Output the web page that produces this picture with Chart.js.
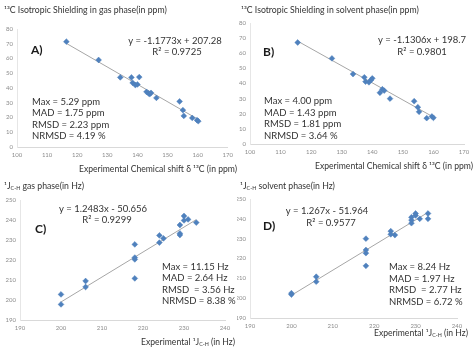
<!DOCTYPE html>
<html>
<head>
<meta charset="utf-8">
<script src="https://cdn.jsdelivr.net/npm/chart.js@4.4.1/dist/chart.umd.min.js"></script>
<style>
  body { margin: 0; background: #fff; }
  .grid { position: relative; width: 474px; height: 352px; background: #fff; }
  .panel { position: absolute; width: 237px; height: 176px; }
</style>
</head>
<body>
<div class="grid">
  <div class="panel" style="left:0;top:0"><canvas id="chartA" width="237" height="176"></canvas></div>
  <div class="panel" style="left:237px;top:0"><canvas id="chartB" width="237" height="176"></canvas></div>
  <div class="panel" style="left:0;top:176px"><canvas id="chartC" width="237" height="176"></canvas></div>
  <div class="panel" style="left:237px;top:176px"><canvas id="chartD" width="237" height="176"></canvas></div>
</div>
<script>
// A) 13C shielding, gas phase vs experimental shift
const expShiftA = [116.4, 127.1, 134.3, 138.0, 140.6, 138.4, 139.3, 140.0, 143.0, 143.7, 144.1, 144.5, 146.3, 154.0, 155.1, 155.4, 158.2, 159.8, 160.2];
const shieldGasA = [71.4, 59.0, 47.2, 47.2, 47.4, 43.5, 42.0, 42.4, 37.4, 36.3, 35.9, 36.7, 33.3, 30.9, 25.0, 21.1, 19.7, 18.2, 17.5];

// B) 13C shielding, solvent phase
const expShiftB = [115.6, 126.8, 133.7, 137.4, 137.8, 138.9, 139.6, 140.0, 142.5, 143.3, 143.9, 145.8, 153.7, 154.9, 155.3, 157.8, 159.5, 160.0];
const shieldSolvB = [67.1, 56.6, 46.2, 44.1, 41.2, 40.8, 42.3, 43.4, 33.9, 36.2, 35.3, 30.0, 28.3, 24.3, 21.3, 17.1, 18.2, 17.3];

// C) 1J C-H, gas phase
const expJC = [200, 200, 206, 206, 218, 218, 218, 218, 224, 224, 225, 229, 229, 229, 230, 230, 231, 233];
const jGasC = [202.8, 197.8, 209.5, 206.5, 227.8, 221.2, 220.3, 210.8, 232.3, 228.7, 230.8, 237.5, 233.3, 232.5, 242.0, 239.8, 240.3, 238.7];

// D) 1J C-H, solvent phase
const expJD = [200, 200, 206, 206, 218, 218, 218, 218, 224, 224, 225, 229, 229, 229, 230, 230, 231, 233, 233];
const jSolvD = [202.5, 201.8, 210.8, 208.3, 230.0, 224.3, 222.7, 216.3, 233.8, 232.2, 231.8, 239.3, 240.8, 237.8, 241.7, 242.7, 240.0, 242.7, 240.0];

// trendline coefficients (as printed on the chart)
const fitA = [-1.1773, 207.28];
const fitB = [-1.1306, 198.7];
const fitC = [1.2483, -50.656];
const fitD = [1.267, -51.964];

const statsA = ['Max = 5.29 ppm', 'MAD = 1.75 ppm', 'RMSD = 2.23 ppm', 'NRMSD = 4.19 %'];
const statsB = ['Max = 4.00 ppm', 'MAD = 1.43 ppm', 'RMSD = 1.81 ppm', 'NRMSD = 3.64 %'];
const statsC = ['Max = 11.15 Hz', 'MAD = 2.64 Hz', 'RMSD  = 3.56 Hz', 'NRMSD = 8.38 %'];
const statsD = ['Max = 8.24 Hz', 'MAD = 1.97 Hz', 'RMSD  = 2.77 Hz', 'NRMSD = 6.72 %'];

const FONT = 'Lato, "Open Sans", sans-serif';

// draw text made of normal / subscript pieces
function drawRich(ctx, parts, x, y, size) {
    ctx.save();
    ctx.textAlign = 'left';
    ctx.textBaseline = 'middle';
    let cx = x;
    parts.forEach(p => {
        const sub = p[1] === 'sub';
        ctx.font = (sub ? size * 0.62 : size) + 'px ' + FONT;
        ctx.fillText(p[0], cx, sub ? y + 2.5 : y);
        cx += ctx.measureText(p[0]).width;
    });
    ctx.restore();
}

const labelsPlugin = {
    id: 'panelText',
    afterDraw(chart) {
        const t = chart.options.plugins.panelText;
        const ctx = chart.ctx;
        ctx.save();
        ctx.fillStyle = '#333333';
        drawRich(ctx, t.title, t.titlePos[0], t.titlePos[1], 8.7);
        drawRich(ctx, t.xTitle, t.xTitlePos[0], t.xTitlePos[1], 8.6);

        ctx.textBaseline = 'middle';
        ctx.fillStyle = '#1a1a1a';
        ctx.font = 'bold 12px ' + FONT;
        ctx.textAlign = 'left';
        ctx.fillText(t.letter, t.letterPos[0], t.letterPos[1]);

        ctx.fillStyle = '#333333';
        ctx.font = '9.5px ' + FONT;
        ctx.textAlign = 'center';
        ctx.fillText(t.eq[0], t.eqPos[0], t.eqPos[1]);
        ctx.fillText(t.eq[1], t.eqPos[2], t.eqPos[3]);

        ctx.textAlign = 'left';
        t.stats.forEach((s, i) => ctx.fillText(s, t.statsPos[0], t.statsPos[1] + i * t.statsPos[2]));
        ctx.restore();
    }
};

function fmtEq(fit) {
    const s = fit[1] < 0 ? ' - ' : ' + ';
    return 'y = ' + fit[0] + 'x' + s + Math.abs(fit[1]);
}

function makeChart(cfg) {
    const pts = cfg.xs.map((x, i) => ({ x: x, y: cfg.ys[i] }));
    const x0 = Math.min(...cfg.xs), x1 = Math.max(...cfg.xs);
    const trend = [x0, x1].map(x => ({ x: x, y: cfg.fit[0] * x + cfg.fit[1] }));
    const a = cfg.area;

    new Chart(document.getElementById(cfg.id), {
        type: 'scatter',
        data: {
            datasets: [{
                data: pts,
                pointStyle: 'rectRot',
                pointRadius: 2.9,
                backgroundColor: '#4f81bd',
                borderColor: '#4f81bd',
                borderWidth: 0.5
            }, {
                data: trend,
                showLine: true,
                borderColor: '#a6a6a6',
                borderWidth: 1,
                pointRadius: 0
            }]
        },
        options: {
            responsive: false,
            animation: false,
            layout: {
                autoPadding: false,
                padding: { left: 0, top: a.top, right: 237 - a.right, bottom: 0 }
            },
            plugins: {
                legend: { display: false },
                tooltip: { enabled: false },
                panelText: cfg.text
            },
            scales: {
                x: {
                    type: 'linear',
                    min: cfg.xRange[0],
                    max: cfg.xRange[1],
                    afterFit: s => { s.height = 176 - a.bottom; },
                    grid: { display: false, drawTicks: false },
                    border: { color: '#d9d9d9' },
                    ticks: { stepSize: 10, padding: 4, color: '#8c8c8c', font: { size: 6, family: FONT } }
                },
                y: {
                    type: 'linear',
                    min: cfg.yRange[0],
                    max: cfg.yRange[1],
                    afterFit: s => { s.width = a.left; },
                    grid: { display: false, drawTicks: false },
                    border: { color: '#e6e6e6' },
                    ticks: { stepSize: 10, padding: 4, color: '#8c8c8c', font: { size: 6, family: FONT } }
                }
            }
        },
        plugins: [labelsPlugin]
    });
}

const shiftTitle = [['Experimental Chemical shift δ ¹³C (in ppm)']];
const jTitle = [['Experimental ¹J'], ['C-H', 'sub'], [' (in Hz)']];

makeChart({
    id: 'chartA', xs: expShiftA, ys: shieldGasA, fit: fitA,
    xRange: [100, 170], yRange: [0, 80],
    area: { left: 17, right: 230, top: 29, bottom: 147 },
    text: {
        title: [['¹³C Isotropic Shielding in gas phase(in ppm)']], titlePos: [4, 10],
        xTitle: shiftTitle, xTitlePos: [79, 169],
        letter: 'A)', letterPos: [31, 50],
        eq: [fmtEq(fitA), 'R² = 0.9725'], eqPos: [175, 41, 177, 52],
        stats: statsA, statsPos: [32, 102, 11.4]
    }
});

makeChart({
    id: 'chartB', xs: expShiftB, ys: shieldSolvB, fit: fitB,
    xRange: [100, 170], yRange: [0, 80],
    area: { left: 13, right: 227, top: 23, bottom: 144 },
    text: {
        title: [['¹³C Isotropic Shielding in solvent phase(in ppm)']], titlePos: [4, 10],
        xTitle: shiftTitle, xTitlePos: [78, 166],
        letter: 'B)', letterPos: [26, 52],
        eq: [fmtEq(fitB), 'R² = 0.9801'], eqPos: [185, 40, 185, 52],
        stats: statsB, statsPos: [27, 101, 11.7]
    }
});

makeChart({
    id: 'chartC', xs: expJC, ys: jGasC, fit: fitC,
    xRange: [190, 240], yRange: [190, 250],
    area: { left: 20, right: 225, top: 24, bottom: 144 },
    text: {
        title: [['¹J'], ['C-H', 'sub'], [' gas phase(in Hz)']], titlePos: [4, 10],
        xTitle: jTitle, xTitlePos: [141, 166],
        letter: 'C)', letterPos: [35, 53],
        eq: [fmtEq(fitC), 'R² = 0.9299'], eqPos: [103, 33, 107, 44],
        stats: statsC, statsPos: [162, 91, 11.3]
    }
});

makeChart({
    id: 'chartD', xs: expJD, ys: jSolvD, fit: fitD,
    xRange: [190, 240], yRange: [190, 250],
    area: { left: 13, right: 220, top: 23, bottom: 142 },
    text: {
        title: [['¹J'], ['C-H', 'sub'], [' solvent phase(in Hz)']], titlePos: [3, 10],
        xTitle: jTitle, xTitlePos: [137, 157],
        letter: 'D)', letterPos: [26, 50],
        eq: [fmtEq(fitD), 'R² = 0.9577'], eqPos: [90, 35, 94, 47],
        stats: statsD, statsPos: [152, 91, 11.7]
    }
});
</script>
</body>
</html>
